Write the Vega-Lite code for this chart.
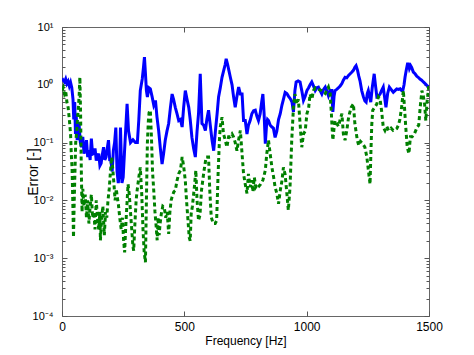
{
  "$schema": "https://vega.github.io/schema/vega-lite/v6.json",
  "width": 367,
  "height": 289,
  "autosize": "none",
  "padding": {"left": 62, "top": 27, "right": 45, "bottom": 39},
  "background": "white",
  "config": {
    "view": {"stroke": "#666666", "strokeWidth": 1},
    "font": "Liberation Sans",
    "axis": {
      "domain": false,
      "grid": false,
      "tickColor": "#555555",
      "labelColor": "#000000",
      "titleColor": "#000000",
      "labelFont": "Liberation Sans",
      "titleFont": "Liberation Sans",
      "titleFontWeight": "normal",
      "titleFontSize": 12,
      "labelOverlap": false,
      "labelFlush": false,
      "labelBound": false
    }
  },
  "datasets": {
    "blue": [
      {"freq":0,"err":1.29},{"freq":5,"err":1.20},{"freq":10,"err":1.12},{"freq":15,"err":1.26},{"freq":20,"err":1.05},{"freq":25,"err":1.15},{"freq":30,"err":0.955},{"freq":35,"err":1.10},{"freq":40,"err":0.891},{"freq":45,"err":0.562},{"freq":48,"err":0.251},{"freq":52,"err":0.501},{"freq":55,"err":0.141},{"freq":58,"err":0.316},{"freq":62,"err":0.110},{"freq":66,"err":0.224},{"freq":70,"err":0.200},{"freq":75,"err":0.100},{"freq":80,"err":0.0832},{"freq":85,"err":0.126},{"freq":90,"err":0.0646},{"freq":95,"err":0.0794},{"freq":100,"err":0.110},{"freq":105,"err":0.0562},{"freq":110,"err":0.0741},{"freq":115,"err":0.0501},{"freq":120,"err":0.117},{"freq":125,"err":0.0631},{"freq":130,"err":0.0646},{"freq":135,"err":0.0794},{"freq":140,"err":0.0490},{"freq":145,"err":0.0562},{"freq":150,"err":0.0646},{"freq":155,"err":0.0398},{"freq":160,"err":0.0437},{"freq":165,"err":0.0631},{"freq":170,"err":0.0832},{"freq":175,"err":0.0501},{"freq":180,"err":0.0562},{"freq":185,"err":0.0794},{"freq":190,"err":0.110},{"freq":195,"err":0.0501},{"freq":200,"err":0.0490},{"freq":205,"err":0.0316},{"freq":210,"err":0.0741},{"freq":215,"err":0.100},{"freq":220,"err":0.182},{"freq":225,"err":0.0316},{"freq":230,"err":0.0200},{"freq":235,"err":0.0316},{"freq":239,"err":0.182},{"freq":245,"err":0.0200},{"freq":250,"err":0.0251},{"freq":255,"err":0.0631},{"freq":260,"err":0.158},{"freq":266,"err":0.468},{"freq":272,"err":0.158},{"freq":280,"err":0.100},{"freq":290,"err":0.112},{"freq":300,"err":0.100},{"freq":308,"err":0.100},{"freq":314,"err":0.251},{"freq":320,"err":0.794},{"freq":328,"err":1.26},{"freq":333,"err":2.00},{"freq":337,"err":3.02},{"freq":341,"err":1.58},{"freq":345,"err":0.794},{"freq":349,"err":0.617},{"freq":355,"err":0.891},{"freq":361,"err":0.851},{"freq":368,"err":0.631},{"freq":375,"err":0.447},{"freq":382,"err":0.537},{"freq":388,"err":0.282},{"freq":395,"err":0.162},{"freq":402,"err":0.0794},{"freq":409,"err":0.0427},{"freq":415,"err":0.0631},{"freq":422,"err":0.110},{"freq":429,"err":0.158},{"freq":436,"err":0.214},{"freq":443,"err":0.398},{"freq":450,"err":0.692},{"freq":456,"err":0.562},{"freq":463,"err":0.407},{"freq":470,"err":0.316},{"freq":477,"err":0.240},{"freq":484,"err":0.251},{"freq":491,"err":0.186},{"freq":497,"err":0.398},{"freq":504,"err":0.794},{"freq":511,"err":0.562},{"freq":518,"err":0.407},{"freq":524,"err":0.251},{"freq":531,"err":0.123},{"freq":538,"err":0.0794},{"freq":545,"err":0.0562},{"freq":552,"err":0.158},{"freq":558,"err":0.316},{"freq":565,"err":1.55},{"freq":569,"err":0.501},{"freq":572,"err":0.214},{"freq":579,"err":0.200},{"freq":586,"err":0.162},{"freq":592,"err":0.251},{"freq":599,"err":0.363},{"freq":606,"err":0.200},{"freq":613,"err":0.112},{"freq":620,"err":0.0724},{"freq":627,"err":0.158},{"freq":634,"err":0.316},{"freq":640,"err":0.617},{"freq":647,"err":0.891},{"freq":654,"err":1.35},{"freq":661,"err":1.78},{"freq":667,"err":2.24},{"freq":671,"err":2.82},{"freq":677,"err":2.24},{"freq":682,"err":1.78},{"freq":688,"err":1.35},{"freq":695,"err":1.00},{"freq":701,"err":0.631},{"freq":708,"err":0.407},{"freq":715,"err":0.631},{"freq":722,"err":0.912},{"freq":729,"err":0.692},{"freq":736,"err":0.692},{"freq":742,"err":0.240},{"freq":749,"err":0.240},{"freq":756,"err":0.141},{"freq":762,"err":0.200},{"freq":769,"err":0.240},{"freq":776,"err":0.316},{"freq":783,"err":0.355},{"freq":790,"err":0.363},{"freq":797,"err":0.282},{"freq":803,"err":0.240},{"freq":810,"err":0.316},{"freq":816,"err":0.501},{"freq":821,"err":0.692},{"freq":826,"err":0.316},{"freq":831,"err":0.0955},{"freq":836,"err":0.200},{"freq":840,"err":0.251},{"freq":844,"err":0.240},{"freq":851,"err":0.200},{"freq":858,"err":0.186},{"freq":864,"err":0.178},{"freq":871,"err":0.123},{"freq":878,"err":0.158},{"freq":885,"err":0.251},{"freq":892,"err":0.316},{"freq":899,"err":0.447},{"freq":905,"err":0.562},{"freq":912,"err":0.741},{"freq":919,"err":0.708},{"freq":926,"err":0.631},{"freq":933,"err":0.575},{"freq":940,"err":0.501},{"freq":946,"err":0.339},{"freq":952,"err":0.794},{"freq":957,"err":1.12},{"freq":965,"err":1.17},{"freq":973,"err":1.12},{"freq":980,"err":0.794},{"freq":987,"err":0.537},{"freq":994,"err":0.631},{"freq":1001,"err":0.794},{"freq":1008,"err":0.891},{"freq":1014,"err":1.00},{"freq":1021,"err":1.12},{"freq":1028,"err":0.955},{"freq":1035,"err":0.794},{"freq":1042,"err":0.891},{"freq":1048,"err":0.912},{"freq":1055,"err":0.794},{"freq":1062,"err":0.692},{"freq":1069,"err":0.832},{"freq":1076,"err":0.912},{"freq":1082,"err":0.794},{"freq":1089,"err":0.646},{"freq":1096,"err":0.794},{"freq":1103,"err":0.794},{"freq":1107,"err":0.339},{"freq":1112,"err":0.631},{"freq":1116,"err":0.794},{"freq":1123,"err":0.832},{"freq":1130,"err":0.891},{"freq":1137,"err":0.955},{"freq":1144,"err":1.05},{"freq":1150,"err":1.20},{"freq":1157,"err":1.35},{"freq":1164,"err":1.32},{"freq":1171,"err":1.45},{"freq":1178,"err":1.55},{"freq":1185,"err":1.66},{"freq":1191,"err":1.78},{"freq":1197,"err":2.00},{"freq":1202,"err":2.14},{"freq":1208,"err":1.78},{"freq":1213,"err":1.41},{"freq":1218,"err":1.17},{"freq":1225,"err":0.794},{"freq":1232,"err":0.617},{"freq":1238,"err":0.525},{"freq":1243,"err":0.501},{"freq":1248,"err":0.708},{"freq":1252,"err":0.794},{"freq":1257,"err":0.631},{"freq":1262,"err":0.501},{"freq":1268,"err":0.891},{"freq":1276,"err":1.55},{"freq":1281,"err":1.00},{"freq":1287,"err":0.617},{"freq":1293,"err":0.631},{"freq":1300,"err":0.692},{"freq":1306,"err":0.794},{"freq":1313,"err":0.912},{"freq":1318,"err":0.631},{"freq":1324,"err":0.407},{"freq":1331,"err":0.708},{"freq":1338,"err":0.912},{"freq":1345,"err":0.832},{"freq":1354,"err":0.741},{"freq":1361,"err":0.794},{"freq":1368,"err":0.851},{"freq":1375,"err":0.832},{"freq":1382,"err":0.851},{"freq":1388,"err":0.794},{"freq":1393,"err":0.794},{"freq":1398,"err":1.00},{"freq":1402,"err":1.35},{"freq":1407,"err":1.78},{"freq":1412,"err":2.29},{"freq":1416,"err":2.29},{"freq":1420,"err":1.91},{"freq":1425,"err":2.14},{"freq":1429,"err":2.00},{"freq":1436,"err":1.66},{"freq":1443,"err":1.55},{"freq":1450,"err":1.41},{"freq":1456,"err":1.35},{"freq":1463,"err":1.26},{"freq":1470,"err":1.20},{"freq":1477,"err":1.12},{"freq":1484,"err":1.05},{"freq":1491,"err":0.977},{"freq":1500,"err":0.912}
    ],
    "green": [
      {"freq":0,"err":0.794},{"freq":5,"err":0.891},{"freq":10,"err":0.708},{"freq":15,"err":0.794},{"freq":20,"err":0.501},{"freq":25,"err":0.407},{"freq":30,"err":0.251},{"freq":35,"err":0.141},{"freq":38,"err":0.0631},{"freq":41,"err":0.0372},{"freq":44,"err":0.0100},{"freq":47,"err":0.00229},{"freq":50,"err":0.0100},{"freq":53,"err":0.0316},{"freq":56,"err":0.100},{"freq":60,"err":0.158},{"freq":65,"err":0.316},{"freq":70,"err":0.631},{"freq":73,"err":1.35},{"freq":76,"err":0.316},{"freq":79,"err":0.0316},{"freq":82,"err":0.00631},{"freq":85,"err":0.0158},{"freq":90,"err":0.00794},{"freq":95,"err":0.0126},{"freq":100,"err":0.00501},{"freq":105,"err":0.0100},{"freq":110,"err":0.00398},{"freq":115,"err":0.00794},{"freq":120,"err":0.0126},{"freq":125,"err":0.00501},{"freq":130,"err":0.00631},{"freq":135,"err":0.00316},{"freq":140,"err":0.0100},{"freq":145,"err":0.00501},{"freq":150,"err":0.00316},{"freq":155,"err":0.00631},{"freq":157,"err":0.00204},{"freq":162,"err":0.00501},{"freq":167,"err":0.00794},{"freq":173,"err":0.00251},{"freq":178,"err":0.00631},{"freq":183,"err":0.00501},{"freq":188,"err":0.0100},{"freq":193,"err":0.0158},{"freq":198,"err":0.0316},{"freq":203,"err":0.0562},{"freq":208,"err":0.0331},{"freq":212,"err":0.0200},{"freq":217,"err":0.0100},{"freq":222,"err":0.0158},{"freq":226,"err":0.0112},{"freq":230,"err":0.00891},{"freq":236,"err":0.00501},{"freq":242,"err":0.00316},{"freq":247,"err":0.00501},{"freq":252,"err":0.00200},{"freq":256,"err":0.00126},{"freq":260,"err":0.00316},{"freq":265,"err":0.00794},{"freq":270,"err":0.0191},{"freq":275,"err":0.0126},{"freq":280,"err":0.00631},{"freq":285,"err":0.00316},{"freq":290,"err":0.00158},{"freq":293,"err":0.00135},{"freq":298,"err":0.00398},{"freq":303,"err":0.0100},{"freq":307,"err":0.0148},{"freq":314,"err":0.0251},{"freq":320,"err":0.0372},{"freq":326,"err":0.0126},{"freq":331,"err":0.00316},{"freq":336,"err":0.00126},{"freq":341,"err":0.000851},{"freq":345,"err":0.0100},{"freq":349,"err":0.100},{"freq":353,"err":0.240},{"freq":356,"err":0.331},{"freq":361,"err":0.363},{"freq":366,"err":0.110},{"freq":370,"err":0.0316},{"freq":375,"err":0.0148},{"freq":380,"err":0.00631},{"freq":385,"err":0.00347},{"freq":389,"err":0.00204},{"freq":393,"err":0.00513},{"freq":397,"err":0.00251},{"freq":401,"err":0.00398},{"freq":406,"err":0.00589},{"freq":412,"err":0.00794},{"freq":418,"err":0.00759},{"freq":424,"err":0.00501},{"freq":430,"err":0.00631},{"freq":436,"err":0.00263},{"freq":441,"err":0.00631},{"freq":446,"err":0.0100},{"freq":450,"err":0.0115},{"freq":457,"err":0.0141},{"freq":463,"err":0.0148},{"freq":470,"err":0.0219},{"freq":477,"err":0.0288},{"freq":484,"err":0.0331},{"freq":491,"err":0.0562},{"freq":497,"err":0.0398},{"freq":504,"err":0.0219},{"freq":509,"err":0.0100},{"freq":515,"err":0.00447},{"freq":520,"err":0.00229},{"freq":524,"err":0.00200},{"freq":528,"err":0.00589},{"freq":533,"err":0.00794},{"freq":541,"err":0.0170},{"freq":547,"err":0.0331},{"freq":552,"err":0.0100},{"freq":558,"err":0.00447},{"freq":564,"err":0.00562},{"freq":570,"err":0.0148},{"freq":580,"err":0.0316},{"freq":589,"err":0.0562},{"freq":599,"err":0.0562},{"freq":604,"err":0.0148},{"freq":610,"err":0.00513},{"freq":618,"err":0.00398},{"freq":626,"err":0.00398},{"freq":632,"err":0.00447},{"freq":638,"err":0.0288},{"freq":644,"err":0.126},{"freq":647,"err":0.186},{"freq":654,"err":0.275},{"freq":660,"err":0.141},{"freq":667,"err":0.112},{"freq":674,"err":0.0832},{"freq":681,"err":0.126},{"freq":688,"err":0.126},{"freq":695,"err":0.141},{"freq":701,"err":0.126},{"freq":708,"err":0.100},{"freq":715,"err":0.0724},{"freq":722,"err":0.112},{"freq":729,"err":0.162},{"freq":735,"err":0.0724},{"freq":742,"err":0.0288},{"freq":749,"err":0.0191},{"freq":756,"err":0.0132},{"freq":762,"err":0.0288},{"freq":769,"err":0.0170},{"freq":776,"err":0.0224},{"freq":780,"err":0.0141},{"freq":786,"err":0.0251},{"freq":792,"err":0.0170},{"freq":800,"err":0.0191},{"freq":806,"err":0.0178},{"freq":812,"err":0.0191},{"freq":821,"err":0.0224},{"freq":831,"err":0.0331},{"freq":837,"err":0.0646},{"freq":844,"err":0.110},{"freq":851,"err":0.0631},{"freq":858,"err":0.0372},{"freq":865,"err":0.0251},{"freq":871,"err":0.0170},{"freq":878,"err":0.0132},{"freq":885,"err":0.00871},{"freq":892,"err":0.0148},{"freq":899,"err":0.0219},{"freq":905,"err":0.0372},{"freq":912,"err":0.0282},{"freq":918,"err":0.0148},{"freq":925,"err":0.00676},{"freq":932,"err":0.0170},{"freq":939,"err":0.110},{"freq":946,"err":0.407},{"freq":952,"err":0.692},{"freq":959,"err":0.468},{"freq":966,"err":0.562},{"freq":973,"err":0.214},{"freq":980,"err":0.0832},{"freq":987,"err":0.141},{"freq":994,"err":0.158},{"freq":1001,"err":0.316},{"freq":1008,"err":0.398},{"freq":1014,"err":0.692},{"freq":1021,"err":0.562},{"freq":1028,"err":0.794},{"freq":1035,"err":0.891},{"freq":1048,"err":0.832},{"freq":1062,"err":0.794},{"freq":1076,"err":0.708},{"freq":1089,"err":0.912},{"freq":1096,"err":0.708},{"freq":1101,"err":0.316},{"freq":1104,"err":0.178},{"freq":1107,"err":0.110},{"freq":1112,"err":0.178},{"freq":1116,"err":0.240},{"freq":1123,"err":0.214},{"freq":1130,"err":0.191},{"freq":1137,"err":0.251},{"freq":1144,"err":0.316},{"freq":1150,"err":0.141},{"freq":1157,"err":0.110},{"freq":1164,"err":0.162},{"freq":1170,"err":0.251},{"freq":1175,"err":0.316},{"freq":1182,"err":0.407},{"freq":1191,"err":0.468},{"freq":1197,"err":0.214},{"freq":1207,"err":0.110},{"freq":1213,"err":0.0891},{"freq":1220,"err":0.105},{"freq":1229,"err":0.0955},{"freq":1238,"err":0.0832},{"freq":1246,"err":0.0562},{"freq":1254,"err":0.0288},{"freq":1259,"err":0.0191},{"freq":1263,"err":0.0794},{"freq":1266,"err":0.200},{"freq":1270,"err":0.363},{"freq":1278,"err":0.407},{"freq":1287,"err":0.468},{"freq":1293,"err":0.617},{"freq":1300,"err":0.562},{"freq":1306,"err":0.363},{"freq":1313,"err":0.186},{"freq":1320,"err":0.162},{"freq":1327,"err":0.191},{"freq":1335,"err":0.162},{"freq":1345,"err":0.178},{"freq":1354,"err":0.162},{"freq":1361,"err":0.166},{"freq":1368,"err":0.174},{"freq":1375,"err":0.200},{"freq":1381,"err":0.251},{"freq":1388,"err":0.407},{"freq":1395,"err":0.794},{"freq":1400,"err":0.398},{"freq":1405,"err":0.186},{"freq":1411,"err":0.0832},{"freq":1418,"err":0.0646},{"freq":1424,"err":0.126},{"freq":1431,"err":0.126},{"freq":1440,"err":0.141},{"freq":1452,"err":0.186},{"freq":1458,"err":0.200},{"freq":1464,"err":0.407},{"freq":1471,"err":0.794},{"freq":1477,"err":0.631},{"freq":1482,"err":0.468},{"freq":1487,"err":0.240},{"freq":1492,"err":0.501},{"freq":1496,"err":0.708},{"freq":1500,"err":1.05}
    ]
  },
  "layer": [
    {
      "data": {"name": "blue"},
      "mark": {"type": "line", "color": "#0000ff", "strokeWidth": 3, "clip": true},
      "encoding": {
        "x": {
          "field": "freq", "type": "quantitative",
          "scale": {"domain": [0, 1500], "nice": false, "zero": false},
          "axis": {
            "orient": "bottom",
            "title": "Frequency [Hz]",
            "values": [0, 500, 1000, 1500],
            "format": "d",
            "labelFontSize": 12,
            "tickSize": -5,
            "labelPadding": 10,
            "titlePadding": 3
          }
        },
        "y": {
          "field": "err", "type": "quantitative",
          "scale": {"type": "log", "domain": [0.0001, 10], "nice": false},
          "axis": {
            "orient": "left",
            "title": "Error [-]",
            "titleFontSize": 14,
            "values": [0.0001,0.0002,0.0003,0.0004,0.0005,0.0006,0.0007,0.0008,0.0009,0.001,0.002,0.003,0.004,0.005,0.006,0.007,0.008,0.009,0.01,0.02,0.03,0.04,0.05,0.06,0.07,0.08,0.09,0.1,0.2,0.3,0.4,0.5,0.6,0.7,0.8,0.9,1,2,3,4,5,6,7,8,9,10],
            "labelExpr": "datum.value==10?'10¹':datum.value==1?'10⁰':datum.value==0.1?'10⁻¹':datum.value==0.01?'10⁻²':datum.value==0.001?'10⁻³':datum.value==0.0001?'10⁻⁴':''",
            "labelFontSize": 11,
            "tickSize": {"condition": {"test": "indexof([0.0001,0.001,0.01,0.1,1,10], datum.value) >= 0", "value": -5}, "value": -3},
            "labelPadding": 14,
            "titlePadding": -8
          }
        }
      }
    },
    {
      "data": {"name": "green"},
      "mark": {"type": "line", "color": "#008000", "strokeWidth": 3, "strokeDash": [4, 3], "clip": true},
      "encoding": {
        "x": {
          "field": "freq", "type": "quantitative",
          "scale": {"domain": [0, 1500], "nice": false, "zero": false},
          "axis": {"orient": "top", "title": null, "labels": false, "values": [0, 500, 1000, 1500], "tickSize": -5}
        },
        "y": {
          "field": "err", "type": "quantitative",
          "scale": {"type": "log", "domain": [0.0001, 10], "nice": false},
          "axis": {
            "orient": "right", "title": null, "labels": false,
            "values": [0.0001,0.0002,0.0003,0.0004,0.0005,0.0006,0.0007,0.0008,0.0009,0.001,0.002,0.003,0.004,0.005,0.006,0.007,0.008,0.009,0.01,0.02,0.03,0.04,0.05,0.06,0.07,0.08,0.09,0.1,0.2,0.3,0.4,0.5,0.6,0.7,0.8,0.9,1,2,3,4,5,6,7,8,9,10],
            "tickSize": {"condition": {"test": "indexof([0.0001,0.001,0.01,0.1,1,10], datum.value) >= 0", "value": -5}, "value": -3}
          }
        }
      }
    }
  ],
  "resolve": {"axis": {"x": "independent", "y": "independent"}}
}
